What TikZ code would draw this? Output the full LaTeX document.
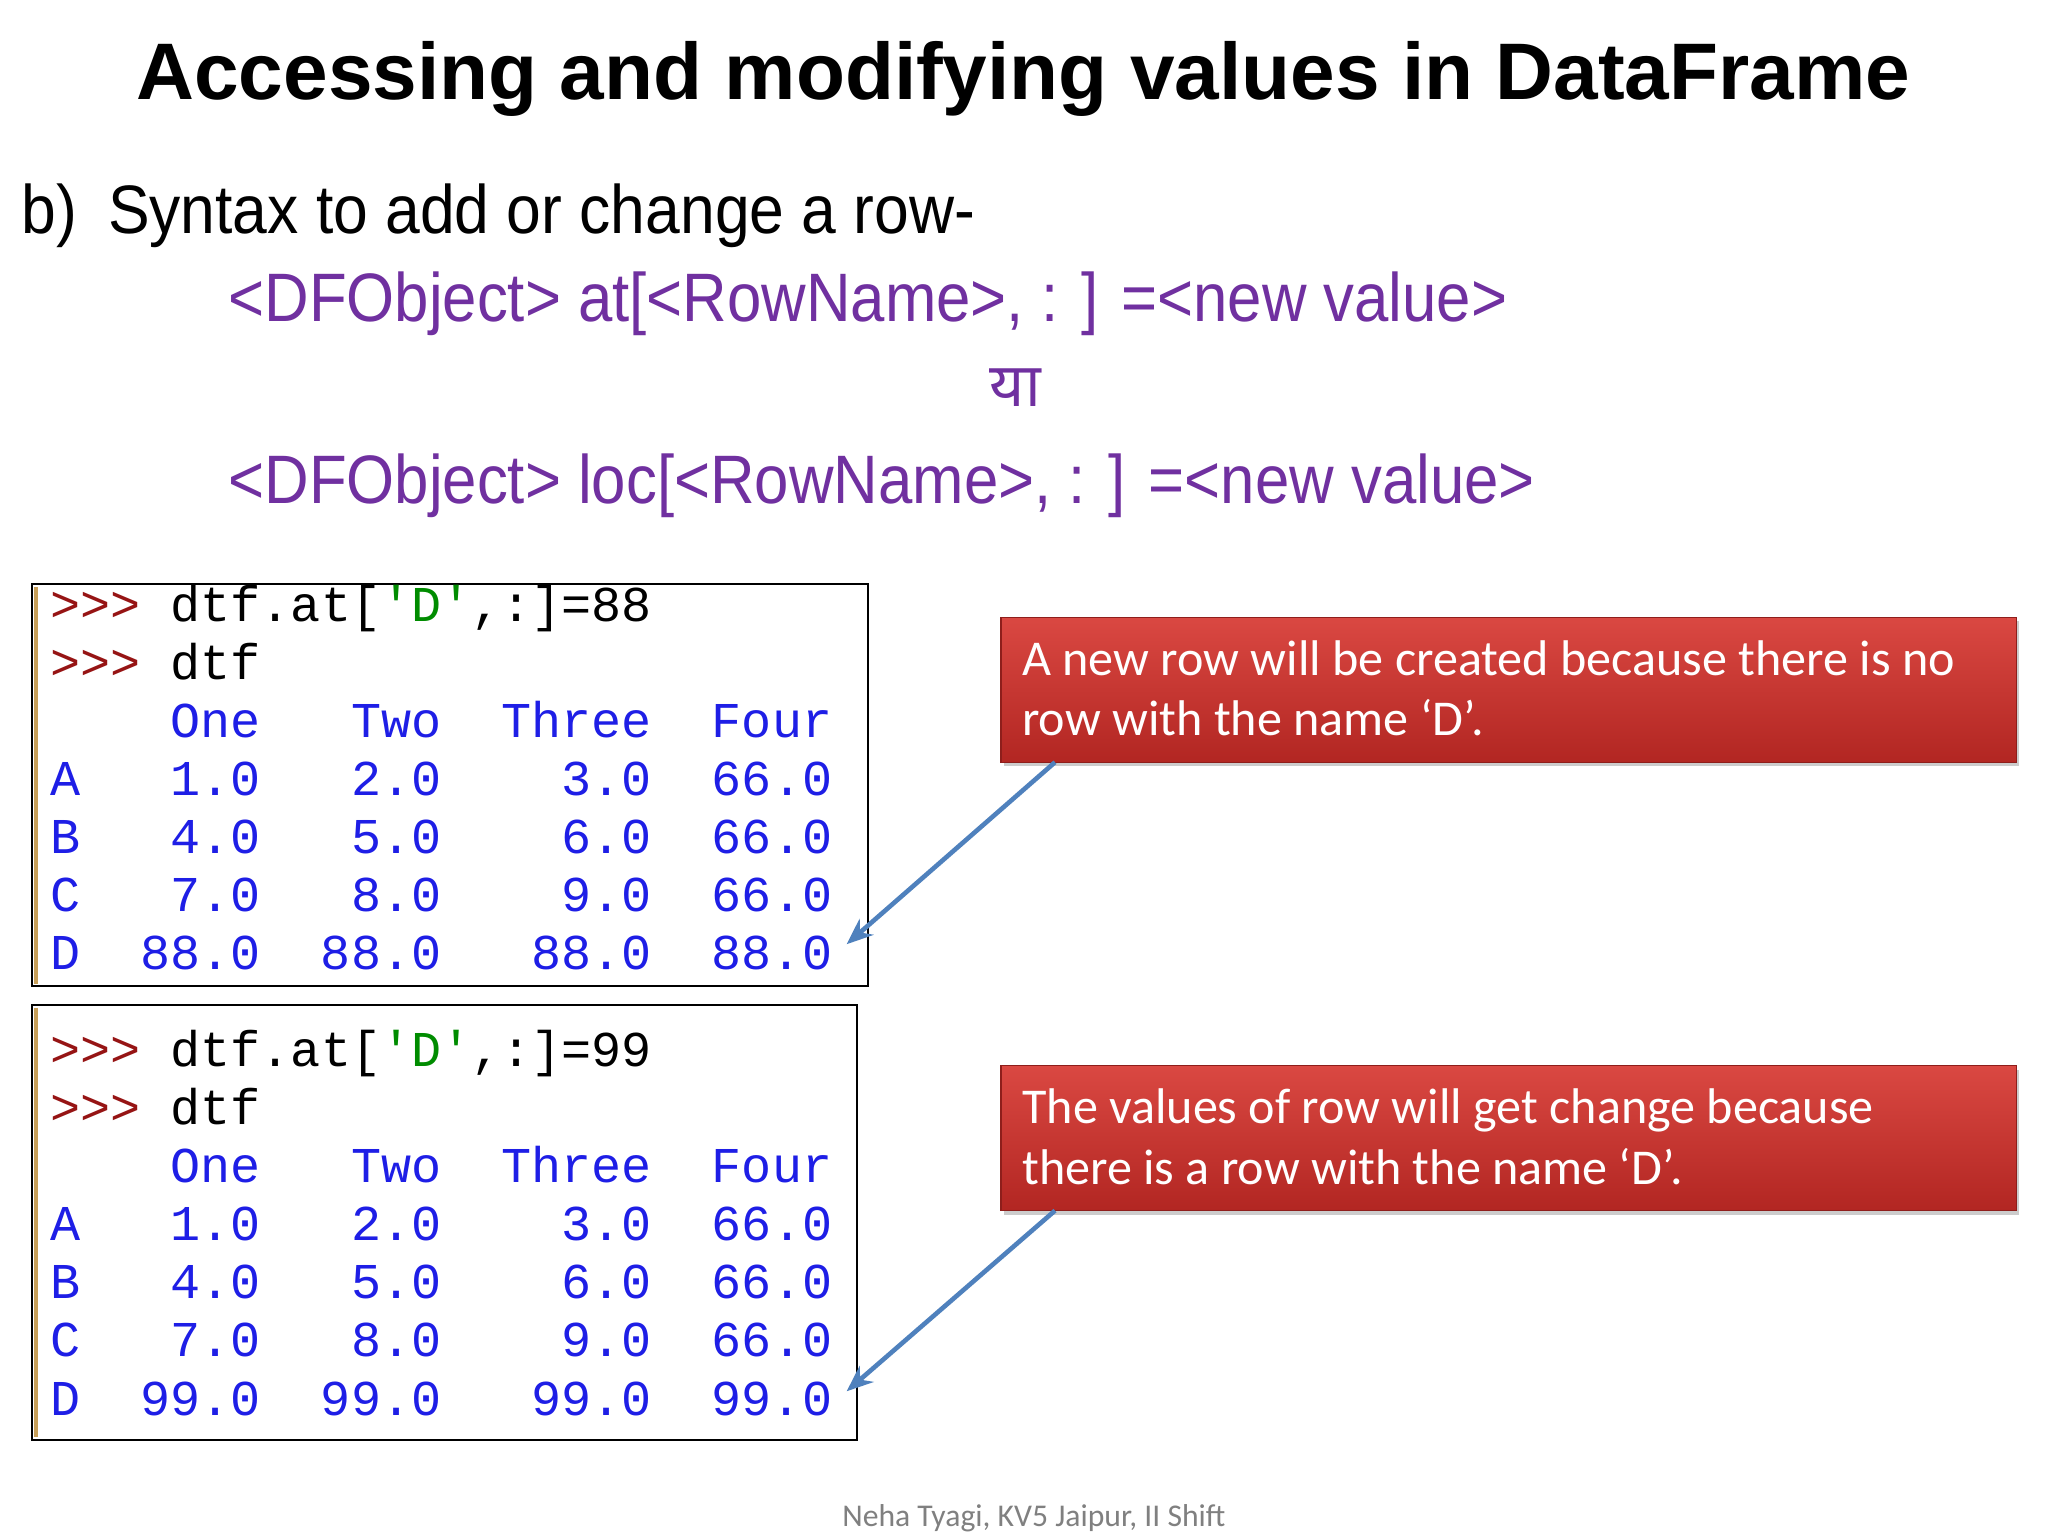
\documentclass[tikz,border=0pt]{standalone}
\usepackage{fontspec}
\setmainfont{Liberation Sans}
\setmonofont{Liberation Mono}
\newfontfamily\carl{Carlito}
\newfontfamily\deva[Script=Devanagari]{Noto Sans}
\usetikzlibrary{arrows.meta,shadows}
\definecolor{purp}{RGB}{112,48,160}
\definecolor{prm}{RGB}{150,20,20}
\definecolor{grn}{RGB}{0,140,0}
\definecolor{num}{RGB}{30,30,230}
\definecolor{redA}{RGB}{218,72,66}
\definecolor{redB}{RGB}{178,38,34}
\definecolor{arr}{RGB}{79,129,189}
\definecolor{tan}{RGB}{200,160,90}
\tikzset{
 txt/.style={anchor=base west,inner sep=0pt},
 code/.style={txt,font=\fontsize{38}{38}\selectfont\ttfamily},
 cbox/.style={draw=black,line width=1.5pt},
 callout/.style={draw=redB!80!black,line width=1pt,top color=redA,bottom color=redB,drop shadow={shadow xshift=2pt,shadow yshift=-3pt,opacity=0.4}},
 ctext/.style={txt,text=white,font=\carl\fontsize{38}{47}\selectfont},
 conn/.style={draw=arr,line width=3.5pt,-{Stealth[length=20pt,width=16pt]}}
}
\begin{document}
\begin{tikzpicture}[x=1pt,y=-1pt]
\useasboundingbox[fill=white] (0,0) rectangle (1553,1165);
\node[font=\bfseries\fontsize{64}{64}\selectfont] (title) at (776,60) {\resizebox{1345pt}{!}{Accessing and modifying values in DataFrame}};
\node[txt,font=\fontsize{52}{52}\selectfont] (b) at (16,177) {\scalebox{0.91}[1]{b)\hspace{26pt}Syntax to add or change a row-}};
\node[txt,text=purp,font=\fontsize{52}{52}\selectfont] (s1) at (173,244) {\scalebox{0.9}[1]{<DFObject> at[<RowName>, : ] =<new value>}};
\node[text=purp,font=\deva\bfseries\fontsize{46}{46}\selectfont] (ya) at (770,294) {या};
\node[txt,text=purp,font=\fontsize{52}{52}\selectfont] (s2) at (173,382) {\scalebox{0.9}[1]{<DFObject> loc[<RowName>, : ] =<new value>}};
% code box 1
\draw[cbox] (24,443) rectangle (658,748);
\draw[tan,line width=3pt] (27,445) -- (27,746);
\node[code] (a1) at (38,471) {\textcolor{prm}{>{}>{}>}~dtf.at[\textcolor{grn}{'D'},:]=88};
\node[code] (a2) at (38,515) {\textcolor{prm}{>{}>{}>}~dtf};
\node[code,text=num] (a3) at (38,559) {~~~~One~~~Two~~Three~~Four};
\node[code,text=num] (a4) at (38,603) {A~~~1.0~~~2.0~~~~3.0~~66.0};
\node[code,text=num] (a5) at (38,647) {B~~~4.0~~~5.0~~~~6.0~~66.0};
\node[code,text=num] (a6) at (38,691) {C~~~7.0~~~8.0~~~~9.0~~66.0};
\node[code,text=num] (a7) at (38,735) {D~~88.0~~88.0~~~88.0~~88.0};
% code box 2
\draw[cbox] (24,762) rectangle (650,1092);
\draw[tan,line width=3pt] (27,764) -- (27,1090);
\node[code] (b1) at (38,809) {\textcolor{prm}{>{}>{}>}~dtf.at[\textcolor{grn}{'D'},:]=99};
\node[code] (b2) at (38,853) {\textcolor{prm}{>{}>{}>}~dtf};
\node[code,text=num] (b3) at (38,897) {~~~~One~~~Two~~Three~~Four};
\node[code,text=num] (b4) at (38,941) {A~~~1.0~~~2.0~~~~3.0~~66.0};
\node[code,text=num] (b5) at (38,985) {B~~~4.0~~~5.0~~~~6.0~~66.0};
\node[code,text=num] (b6) at (38,1029) {C~~~7.0~~~8.0~~~~9.0~~66.0};
\node[code,text=num] (b7) at (38,1073) {D~~99.0~~99.0~~~99.0~~99.0};
% callouts
\path[callout] (759,468) rectangle (1529,578);
\node[ctext] (c1) at (775,512) {A new row will be created because there is no};
\node[ctext] (c1b) at (775,558) {row with the name ‘D’.};
\path[callout] (759,808) rectangle (1529,918);
\node[ctext] (c2) at (775,852) {The values of row will get change because};
\node[ctext] (c2b) at (775,898) {there is a row with the name ‘D’.};
\coordinate (p1) at (800,578);
\coordinate (q1) at (642,716);
\coordinate (p2) at (800,918);
\coordinate (q2) at (642,1055);
\draw[conn] (p1) -- (q1);
\draw[conn] (p2) -- (q2);
\node[text=gray,font=\carl\fontsize{24}{24}\selectfont] (foot) at (784,1151) {Neha Tyagi, KV5 Jaipur, II Shift};
\end{tikzpicture}
\end{document}
